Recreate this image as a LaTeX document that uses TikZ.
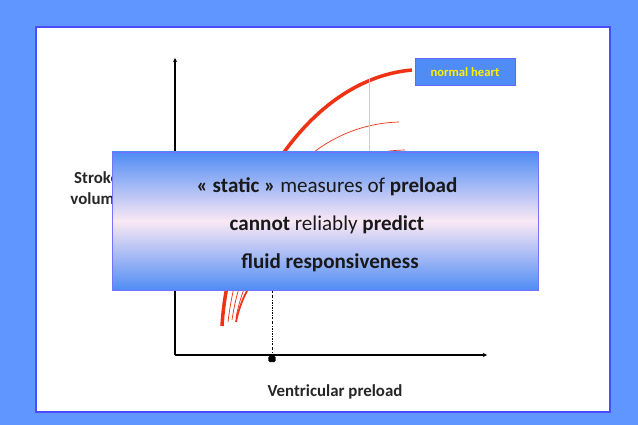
\documentclass[tikz,border=0pt]{standalone}
\usepackage{fontspec}
\setmainfont{Carlito}
\usetikzlibrary{positioning}
\definecolor{bgblue}{RGB}{96,150,255}
\definecolor{boxblue}{RGB}{80,140,245}
\definecolor{boxpink}{RGB}{250,232,245}
\definecolor{curvered}{RGB}{240,50,20}
\tikzset{
	curve/.style = {draw=curvered, line width = #1},
	label/.style = {font=\fontsize{24}{30}\selectfont\bfseries, text=black!85},
	msg/.style = {font=\fontsize{30}{36}\selectfont, text=black!90}
}
\begin{document}
\begin{tikzpicture}[x=0.05cm, y=-0.05cm]
	\fill [bgblue] (0,0) rectangle (638,425);
	\fill [white, draw=blue!70, line width=1.5pt] (36,27) rectangle (610,412);
	% axes
	\coordinate (o) at (175,355);
	\coordinate (ytop) at (175,58);
	\coordinate (xend) at (487,355);
	\draw [->, line width=1.6pt, >=stealth] (o) -- (ytop);
	\draw [->, line width=1.6pt, >=stealth] (o) -- (xend);
	\node [label, anchor=west, align=center] (sv) at (68,188) {Stroke\\volume};
	\node [label] (vp) at (335,392) {Ventricular preload};
	% curves
	\draw [curve=5pt] (222,326) .. controls (228,220) and (300,80) .. (412,70);
	\draw [curve=1pt] (228,322) .. controls (240,220) and (300,125) .. (399,122);
	\draw [curve=1pt] (232,320) .. controls (245,230) and (310,152) .. (405,150);
	\draw [curve=1pt] (236,318) .. controls (250,240) and (320,180) .. (405,178);
	\draw [curve=2.5pt] (236,322) .. controls (250,250) and (330,210) .. (405,205);
	\draw [gray!40, line width=0.6pt] (369,78) -- (369,160);
	% preload marker
	\node [fill=black, rounded corners=2pt, minimum width=10pt, minimum height=9pt, inner sep=0pt] (dot) at (272,359) {};
	\draw [dash dot, line width=1.1pt] (dot) -- (272,280);
	\node [fill=boxblue, draw=blue!60, minimum width=100*0.05cm, minimum height=27*0.05cm, font=\fontsize{18}{22}\selectfont\bfseries, text=yellow] (nh) at (465,72) {normal heart};
	% message box
	\shade [top color=boxblue, bottom color=boxblue, middle color=boxpink, draw=blue!55, line width=1pt] (112,152) rectangle (538,290);
	\node [msg] (l1) at (327,187) {\textbf{« static »} measures of \textbf{preload}};
	\node [msg] (l2) at (327,225) {\textbf{cannot} reliably \textbf{predict}};
	\node [msg] (l3) at (330,263) {\textbf{fluid responsiveness}};
\end{tikzpicture}
\end{document}
